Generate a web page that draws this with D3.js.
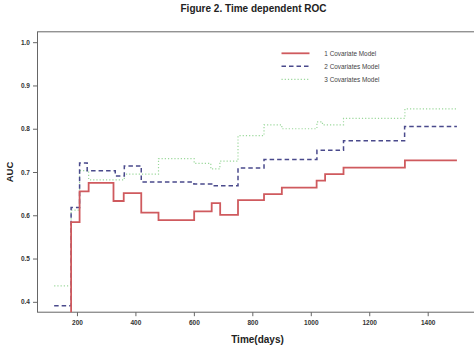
<!DOCTYPE html>
<html><head><meta charset="utf-8">
<script src="https://cdn.jsdelivr.net/npm/d3@7"></script>
<style>body{margin:0;background:#fff}svg{display:block}</style>
</head><body>
<svg id="chart" width="474" height="349"></svg>
<script>
const title = "Figure 2. Time dependent ROC";
const xTicks = [200, 400, 600, 800, 1000, 1200, 1400];
const yTicks = [0.4, 0.5, 0.6, 0.7, 0.8, 0.9, 1.0];
const seriesNames = ["1 Covariate Model", "2 Covariates Model", "3 Covariates Model"];

const redTimes = [120, 180, 209, 240, 325, 360, 420, 479, 601, 661, 690, 751, 840, 901, 1020, 1049, 1112, 1322, 1500];
const redValues = [0.30, 0.584, 0.655, 0.675, 0.633, 0.651, 0.606, 0.589, 0.609, 0.628, 0.601, 0.635, 0.649, 0.664, 0.680, 0.695, 0.710, 0.727, 0.727];

const blueTimes = [122, 180, 209, 235, 331, 362, 420, 600, 661, 751, 840, 1021, 1112, 1321, 1500];
const blueValues = [0.391, 0.618, 0.721, 0.703, 0.691, 0.714, 0.677, 0.672, 0.668, 0.709, 0.729, 0.750, 0.772, 0.805, 0.805];

const greenTimes = [122, 180, 209, 240, 362, 479, 601, 658, 689, 751, 840, 901, 1021, 1040, 1112, 1322, 1500];
const greenValues = [0.437, 0.612, 0.703, 0.682, 0.695, 0.731, 0.720, 0.707, 0.725, 0.784, 0.809, 0.800, 0.816, 0.809, 0.824, 0.846, 0.846];

const colors = ["#cf5a5e", "#4a4a8c", "#9bd89b"];
const dashes = [null, "4.5,3", "1.2,2"];
const widths = [1.8, 1.5, 1.2];

const svg = d3.select("#chart");
const mL = 37.5, mR = 473, mT = 31.8, mB = 312.2;
const x = d3.scaleLinear().domain([65, 1555]).range([mL, mR]);
const y = d3.scaleLinear().domain([0.376, 1.024]).range([mB, mT]);

svg.append("defs").append("clipPath").attr("id", "clip")
  .append("rect").attr("x", mL).attr("y", mT).attr("width", 480 - mL).attr("height", mB - mT);

// box
svg.append("rect").attr("x", mL).attr("y", mT).attr("width", 480 - mL).attr("height", mB - mT)
  .attr("fill", "none").attr("stroke", "#666").attr("stroke-width", 1);

// axes
const fontTick = "bold 6.5px 'Liberation Sans', Arial, sans-serif";
const yAxis = svg.append("g").attr("transform", `translate(${mL},0)`)
  .call(d3.axisLeft(y).tickValues(yTicks).tickFormat(d3.format(".1f")).tickSize(4.5).tickPadding(3));
const xAxis = svg.append("g").attr("transform", `translate(0,${mB})`)
  .call(d3.axisBottom(x).tickValues(xTicks).tickFormat(d3.format("d")).tickSize(4).tickPadding(4));
[yAxis, xAxis].forEach(a => {
  a.select(".domain").remove();
  a.selectAll("line").attr("stroke", "#666");
  a.selectAll("text").style("font", fontTick).attr("fill", "#333");
});

// series
const line = d3.line().x(d => x(d[0])).y(d => y(d[1])).curve(d3.curveStepAfter);
const series = [
  d3.zip(redTimes, redValues),
  d3.zip(blueTimes, blueValues),
  d3.zip(greenTimes, greenValues)
];
const g = svg.append("g").attr("clip-path", "url(#clip)");
[2, 1, 0].forEach(i => {
  g.append("path").datum(series[i]).attr("d", line)
    .attr("fill", "none").attr("stroke", colors[i]).attr("stroke-width", widths[i])
    .attr("stroke-dasharray", dashes[i]);
});

// legend
const lg = svg.append("g");
seriesNames.forEach((name, i) => {
  const yy = 53.3 + i * 13;
  lg.append("line").attr("x1", 281.5).attr("x2", 309.5).attr("y1", yy).attr("y2", yy)
    .attr("stroke", colors[i]).attr("stroke-width", widths[i]).attr("stroke-dasharray", dashes[i]);
  lg.append("text").attr("x", 324.3).attr("y", yy).attr("dy", "0.35em")
    .style("font", "6.4px 'Liberation Sans', Arial, sans-serif").attr("fill", "#444").text(name);
});

// title & labels
svg.append("text").attr("x", 253.5).attr("y", 12).attr("text-anchor", "middle")
  .style("font", "bold 10px 'Liberation Sans', Arial, sans-serif").attr("fill", "#222").text(title);
svg.append("text").attr("x", 257.5).attr("y", 343).attr("text-anchor", "middle")
  .style("font", "bold 10px 'Liberation Sans', Arial, sans-serif").attr("fill", "#222").text("Time(days)");
svg.append("text").attr("transform", "translate(12.5,172) rotate(-90)").attr("text-anchor", "middle")
  .style("font", "bold 9.5px 'Liberation Sans', Arial, sans-serif").attr("fill", "#222").text("AUC");
</script>
</body></html>
